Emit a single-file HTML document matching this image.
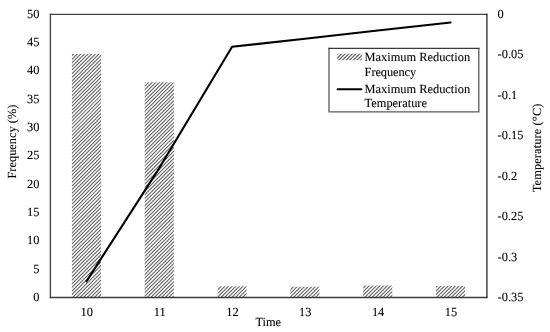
<!DOCTYPE html>
<html><head><meta charset="utf-8"><title>Chart</title>
<style>html,body{margin:0;padding:0;background:#fff;}svg{display:block;}</style>
</head><body>
<svg width="550" height="332" viewBox="0 0 550 332">
<rect width="550" height="332" fill="#fff"/>
<clipPath id="c0"><rect x="71.89" y="54.03" width="29.13" height="243.47"/></clipPath>
<path clip-path="url(#c0)" d="M-179.14,299.50L68.33,52.03M-175.52,299.50L71.95,52.03M-171.90,299.50L75.57,52.03M-168.28,299.50L79.19,52.03M-164.66,299.50L82.81,52.03M-161.04,299.50L86.43,52.03M-157.42,299.50L90.05,52.03M-153.80,299.50L93.67,52.03M-150.18,299.50L97.29,52.03M-146.56,299.50L100.91,52.03M-142.94,299.50L104.53,52.03M-139.32,299.50L108.15,52.03M-135.70,299.50L111.77,52.03M-132.08,299.50L115.39,52.03M-128.46,299.50L119.01,52.03M-124.84,299.50L122.63,52.03M-121.22,299.50L126.25,52.03M-117.60,299.50L129.87,52.03M-113.98,299.50L133.49,52.03M-110.36,299.50L137.11,52.03M-106.74,299.50L140.73,52.03M-103.12,299.50L144.35,52.03M-99.50,299.50L147.97,52.03M-95.88,299.50L151.59,52.03M-92.26,299.50L155.21,52.03M-88.64,299.50L158.83,52.03M-85.02,299.50L162.45,52.03M-81.40,299.50L166.07,52.03M-77.78,299.50L169.69,52.03M-74.16,299.50L173.31,52.03M-70.54,299.50L176.93,52.03M-66.92,299.50L180.55,52.03M-63.30,299.50L184.17,52.03M-59.68,299.50L187.79,52.03M-56.06,299.50L191.41,52.03M-52.44,299.50L195.03,52.03M-48.82,299.50L198.65,52.03M-45.20,299.50L202.27,52.03M-41.58,299.50L205.89,52.03M-37.96,299.50L209.51,52.03M-34.34,299.50L213.13,52.03M-30.72,299.50L216.75,52.03M-27.10,299.50L220.37,52.03M-23.48,299.50L223.99,52.03M-19.86,299.50L227.61,52.03M-16.24,299.50L231.23,52.03M-12.62,299.50L234.85,52.03M-9.00,299.50L238.47,52.03M-5.38,299.50L242.09,52.03M-1.76,299.50L245.71,52.03M1.86,299.50L249.33,52.03M5.48,299.50L252.95,52.03M9.10,299.50L256.57,52.03M12.72,299.50L260.19,52.03M16.34,299.50L263.81,52.03M19.96,299.50L267.43,52.03M23.58,299.50L271.05,52.03M27.20,299.50L274.67,52.03M30.82,299.50L278.29,52.03M34.44,299.50L281.91,52.03M38.06,299.50L285.53,52.03M41.68,299.50L289.15,52.03M45.30,299.50L292.77,52.03M48.92,299.50L296.39,52.03M52.54,299.50L300.01,52.03M56.16,299.50L303.63,52.03M59.78,299.50L307.25,52.03M63.40,299.50L310.87,52.03M67.02,299.50L314.49,52.03M70.64,299.50L318.11,52.03M74.26,299.50L321.73,52.03M77.88,299.50L325.35,52.03M81.50,299.50L328.97,52.03M85.12,299.50L332.59,52.03M88.74,299.50L336.21,52.03M92.36,299.50L339.83,52.03M95.98,299.50L343.45,52.03M99.60,299.50L347.07,52.03M103.22,299.50L350.69,52.03" stroke="#5e5e5e" stroke-width="1.05" fill="none"/>
<clipPath id="c1"><rect x="144.71" y="82.34" width="29.13" height="215.16"/></clipPath>
<path clip-path="url(#c1)" d="M-79.38,299.50L139.78,80.34M-75.76,299.50L143.40,80.34M-72.14,299.50L147.02,80.34M-68.52,299.50L150.64,80.34M-64.90,299.50L154.26,80.34M-61.28,299.50L157.88,80.34M-57.66,299.50L161.50,80.34M-54.04,299.50L165.12,80.34M-50.42,299.50L168.74,80.34M-46.80,299.50L172.36,80.34M-43.18,299.50L175.98,80.34M-39.56,299.50L179.60,80.34M-35.94,299.50L183.22,80.34M-32.32,299.50L186.84,80.34M-28.70,299.50L190.46,80.34M-25.08,299.50L194.08,80.34M-21.46,299.50L197.70,80.34M-17.84,299.50L201.32,80.34M-14.22,299.50L204.94,80.34M-10.60,299.50L208.56,80.34M-6.98,299.50L212.18,80.34M-3.36,299.50L215.80,80.34M0.26,299.50L219.42,80.34M3.88,299.50L223.04,80.34M7.50,299.50L226.66,80.34M11.12,299.50L230.28,80.34M14.74,299.50L233.90,80.34M18.36,299.50L237.52,80.34M21.98,299.50L241.14,80.34M25.60,299.50L244.76,80.34M29.22,299.50L248.38,80.34M32.84,299.50L252.00,80.34M36.46,299.50L255.62,80.34M40.08,299.50L259.24,80.34M43.70,299.50L262.86,80.34M47.32,299.50L266.48,80.34M50.94,299.50L270.10,80.34M54.56,299.50L273.72,80.34M58.18,299.50L277.34,80.34M61.80,299.50L280.96,80.34M65.42,299.50L284.58,80.34M69.04,299.50L288.20,80.34M72.66,299.50L291.82,80.34M76.28,299.50L295.44,80.34M79.90,299.50L299.06,80.34M83.52,299.50L302.68,80.34M87.14,299.50L306.30,80.34M90.76,299.50L309.92,80.34M94.38,299.50L313.54,80.34M98.00,299.50L317.16,80.34M101.62,299.50L320.78,80.34M105.24,299.50L324.40,80.34M108.86,299.50L328.02,80.34M112.48,299.50L331.64,80.34M116.10,299.50L335.26,80.34M119.72,299.50L338.88,80.34M123.34,299.50L342.50,80.34M126.96,299.50L346.12,80.34M130.58,299.50L349.74,80.34M134.20,299.50L353.36,80.34M137.82,299.50L356.98,80.34M141.44,299.50L360.60,80.34M145.06,299.50L364.22,80.34M148.68,299.50L367.84,80.34M152.30,299.50L371.46,80.34M155.92,299.50L375.08,80.34M159.54,299.50L378.70,80.34M163.16,299.50L382.32,80.34M166.78,299.50L385.94,80.34M170.40,299.50L389.56,80.34M174.02,299.50L393.18,80.34M177.64,299.50L396.80,80.34" stroke="#5e5e5e" stroke-width="1.05" fill="none"/>
<clipPath id="c2"><rect x="217.53" y="286.18" width="29.13" height="11.32"/></clipPath>
<path clip-path="url(#c2)" d="M197.14,299.50L212.46,284.18M200.76,299.50L216.08,284.18M204.38,299.50L219.70,284.18M208.00,299.50L223.32,284.18M211.62,299.50L226.94,284.18M215.24,299.50L230.56,284.18M218.86,299.50L234.18,284.18M222.48,299.50L237.80,284.18M226.10,299.50L241.42,284.18M229.72,299.50L245.04,284.18M233.34,299.50L248.66,284.18M236.96,299.50L252.28,284.18M240.58,299.50L255.90,284.18M244.20,299.50L259.52,284.18M247.82,299.50L263.14,284.18M251.44,299.50L266.76,284.18" stroke="#5e5e5e" stroke-width="1.05" fill="none"/>
<clipPath id="c3"><rect x="290.34" y="286.74" width="29.13" height="10.76"/></clipPath>
<path clip-path="url(#c3)" d="M273.46,299.50L288.22,284.74M277.08,299.50L291.84,284.74M280.70,299.50L295.46,284.74M284.32,299.50L299.08,284.74M287.94,299.50L302.70,284.74M291.56,299.50L306.32,284.74M295.18,299.50L309.94,284.74M298.80,299.50L313.56,284.74M302.42,299.50L317.18,284.74M306.04,299.50L320.80,284.74M309.66,299.50L324.42,284.74M313.28,299.50L328.04,284.74M316.90,299.50L331.66,284.74M320.52,299.50L335.28,284.74M324.14,299.50L338.90,284.74" stroke="#5e5e5e" stroke-width="1.05" fill="none"/>
<clipPath id="c4"><rect x="363.16" y="285.50" width="29.13" height="12.00"/></clipPath>
<path clip-path="url(#c4)" d="M344.54,299.50L360.54,283.50M348.16,299.50L364.16,283.50M351.78,299.50L367.78,283.50M355.40,299.50L371.40,283.50M359.02,299.50L375.02,283.50M362.64,299.50L378.64,283.50M366.26,299.50L382.26,283.50M369.88,299.50L385.88,283.50M373.50,299.50L389.50,283.50M377.12,299.50L393.12,283.50M380.74,299.50L396.74,283.50M384.36,299.50L400.36,283.50M387.98,299.50L403.98,283.50M391.60,299.50L407.60,283.50M395.22,299.50L411.22,283.50" stroke="#5e5e5e" stroke-width="1.05" fill="none"/>
<clipPath id="c5"><rect x="435.98" y="286.01" width="29.13" height="11.49"/></clipPath>
<path clip-path="url(#c5)" d="M416.54,299.50L432.03,284.01M420.16,299.50L435.65,284.01M423.78,299.50L439.27,284.01M427.40,299.50L442.89,284.01M431.02,299.50L446.51,284.01M434.64,299.50L450.13,284.01M438.26,299.50L453.75,284.01M441.88,299.50L457.37,284.01M445.50,299.50L460.99,284.01M449.12,299.50L464.61,284.01M452.74,299.50L468.23,284.01M456.36,299.50L471.85,284.01M459.98,299.50L475.47,284.01M463.60,299.50L479.09,284.01M467.22,299.50L482.71,284.01" stroke="#5e5e5e" stroke-width="1.05" fill="none"/>
<line x1="50.4" y1="13.700000000000001" x2="50.4" y2="298.1" stroke="#454545" stroke-width="1.4"/>
<line x1="486.9" y1="13.700000000000001" x2="486.9" y2="298.1" stroke="#454545" stroke-width="1.5"/>
<line x1="49.699999999999996" y1="14.4" x2="487.65" y2="14.4" stroke="#454545" stroke-width="1.4"/>
<line x1="49.699999999999996" y1="297.5" x2="487.65" y2="297.5" stroke="#3c3c3c" stroke-width="1.3"/>
<polyline points="86.46,281.32 159.27,168.08 232.09,46.75 304.91,38.67 377.72,30.58 450.54,22.49" fill="none" stroke="#000" stroke-width="2.1" stroke-linejoin="round" stroke-linecap="round"/>
<rect x="329.0" y="48.35" width="149.80" height="63.55" fill="#fff"/>
<path d="M329.0,47.75V112.5M478.8,47.75V112.5M328.4,111.9H479.40000000000003" stroke="#5a5a5a" stroke-width="1.3" fill="none"/>
<path d="M328.4,48.35H479.40000000000003" stroke="#3a3a3a" stroke-width="1.25" fill="none"/>
<clipPath id="cl"><rect x="337.20" y="53.80" width="24.60" height="6.50"/></clipPath>
<path clip-path="url(#cl)" d="M322.22,62.30L332.72,51.80M325.84,62.30L336.34,51.80M329.46,62.30L339.96,51.80M333.08,62.30L343.58,51.80M336.70,62.30L347.20,51.80M340.32,62.30L350.82,51.80M343.94,62.30L354.44,51.80M347.56,62.30L358.06,51.80M351.18,62.30L361.68,51.80M354.80,62.30L365.30,51.80M358.42,62.30L368.92,51.80M362.04,62.30L372.54,51.80M365.66,62.30L376.16,51.80" stroke="#5a5a5a" stroke-width="1.15" fill="none"/>
<line x1="337.7" y1="89.3" x2="361.4" y2="89.3" stroke="#000" stroke-width="2.1" stroke-linecap="round"/>
<g font-family="'Liberation Serif', serif" font-size="12.4" fill="#000" stroke="#000" stroke-width="0.08" text-rendering="geometricPrecision">
<text transform="translate(39.50,300.95)" text-anchor="end">0</text>
<text transform="translate(39.50,272.64)" text-anchor="end">5</text>
<text transform="translate(39.50,244.33)" text-anchor="end">10</text>
<text transform="translate(39.50,216.02)" text-anchor="end">15</text>
<text transform="translate(39.50,187.71)" text-anchor="end">20</text>
<text transform="translate(39.50,159.40)" text-anchor="end">25</text>
<text transform="translate(39.50,131.09)" text-anchor="end">30</text>
<text transform="translate(39.50,102.78)" text-anchor="end">35</text>
<text transform="translate(39.50,74.47)" text-anchor="end">40</text>
<text transform="translate(39.50,46.16)" text-anchor="end">45</text>
<text transform="translate(39.50,17.85)" text-anchor="end">50</text>
<text transform="translate(497.60,17.85)">0</text>
<text transform="translate(497.60,58.29)">-0.05</text>
<text transform="translate(497.60,98.74)">-0.1</text>
<text transform="translate(497.60,139.18)">-0.15</text>
<text transform="translate(497.60,179.62)">-0.2</text>
<text transform="translate(497.60,220.06)">-0.25</text>
<text transform="translate(497.60,260.51)">-0.3</text>
<text transform="translate(497.60,300.95)">-0.35</text>
<text transform="translate(86.81,315.50)" text-anchor="middle">10</text>
<text transform="translate(159.62,315.50)" text-anchor="middle">11</text>
<text transform="translate(232.44,315.50)" text-anchor="middle">12</text>
<text transform="translate(305.26,315.50)" text-anchor="middle">13</text>
<text transform="translate(378.07,315.50)" text-anchor="middle">14</text>
<text transform="translate(450.89,315.50)" text-anchor="middle">15</text>
<text transform="translate(268.20,326.20)" text-anchor="middle" textLength="25.6" lengthAdjust="spacing">Time</text>
<text transform="translate(16.00,178.50) rotate(-90)" textLength="73.8" lengthAdjust="spacing">Frequency (%)</text>
<text transform="translate(540.75,192.20) rotate(-90)" textLength="88.6" lengthAdjust="spacing">Temperature (°C)</text>
<text transform="translate(364.60,61.20)" textLength="105.5" lengthAdjust="spacing">Maximum Reduction</text>
<text transform="translate(364.60,75.60)" textLength="51.6" lengthAdjust="spacing">Frequency</text>
<text transform="translate(364.60,93.00)" textLength="105.5" lengthAdjust="spacing">Maximum Reduction</text>
<text transform="translate(364.60,107.30)" textLength="62.4" lengthAdjust="spacing">Temperature</text>
</g>
</svg>
</body></html>
